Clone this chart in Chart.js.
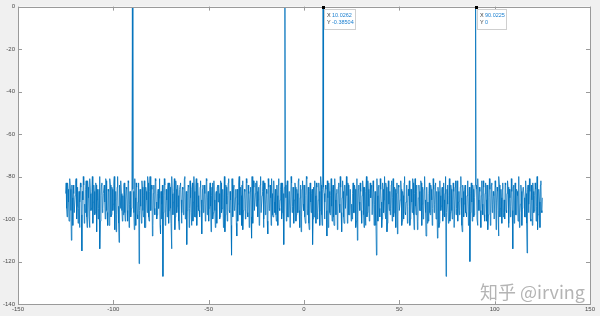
<!DOCTYPE html>
<html><head><meta charset="utf-8">
<script src="https://cdn.jsdelivr.net/npm/chart.js@4/dist/chart.umd.min.js"></script>
<style>html,body{margin:0;padding:0;background:#f0f0f0;}canvas{display:block;}</style>
</head><body>
<canvas id="c" width="600" height="316"></canvas>
<script>
// sampling grid of the spectrum (x from -125 to 125, step 0.25)
const xStart = -125;
const xStep = 0.25;
// spectrum magnitude (dB), 40 samples per row (10 units)
const spectrum = [
-88,-83,-95,-99,-83,-86,-92,-101,-98,-81, -86,-96,-110,-84,-90,-103,-84,-88,-97,-97, -89,-82,-81,-100,-94,-85,-102,-95,-87,-104, -92,-83,-85,-98,-115,-87,-91,-80,-84,-102,
-93,-97,-86,-82,-99,-104,-82,-85,-90,-99, -104,-81,-88,-96,-95,-87,-80,-102,-92,-84, -87,-98,-97,-83,-84,-106,-91,-86,-100,-95, -86,-80,-114,-101,-89,-84,-83,-97,-95,-88,
-88,-84,-92,-100,-81,-82,-96,-97,-103,-86, -87,-103,-90,-81,-84,-99,-98,-85,-86,-96, -93,-83,-80,-105,-91,-87,-106,-98,-85,-80, -94,-102,-111,-84,-88,-95,-82,-88,-96,-101,
-89,-98,-84,-83,-97,-101,-91,-85,-86,-96, -101,-82,-83,-104,-93,-87,-88,-99,-95,-84, -0.5,-86,-87,-97,-105,-81,-90,-103,-83,-85, -98,-100,-92,-83,-121,-96,-86,-88,-94,-102,
-82,-85,-96,-99,-89,-82,-104,-104,-85,-87, -91,-97,-80,-83,-99,-101,-87,-80,-93,-96, -84,-86,-108,-103,-88,-84,-95,-98,-81,-82, -92,-100,-98,-88,-86,-95,-90,-81,-103,-107,
-87,-100,-93,-84,-127,-97,-89,-81,-84,-103, -97,-86,-91,-99,-86,-83,-102,-96,-83,-85, -95,-102,-114,-80,-88,-98,-92,-87,-81,-105, -99,-82,-86,-97,-94,-84,-89,-101,-105,-86,
-84,-83,-91,-102,-97,-85,-86,-98,-93,-81, -80,-100,-98,-87,-112,-96,-88,-84,-85,-104, -95,-82,-90,-97,-103,-86,-83,-101,-92,-80, -87,-99,-99,-85,-81,-103,-94,-83,-89,-96,
-96,-99,-85,-82,-91,-103,-107,-86,-84,-97, -93,-84,-88,-101,-98,-81,-82,-98,-90,-87, -101,-95,-86,-83,-94,-106,-89,-85,-83,-100, -97,-82,-91,-96,-104,-88,-87,-102,-85,-84,
-92,-84,-88,-100,-99,-82,-83,-97,-95,-86, -86,-104,-90,-80,-106,-98,-84,-85,-93,-101, -89,-83,-81,-96,-97,-87,-91,-103,-117,-81, -87,-99,-85,-84,-96,-95,-90,-86,-102,-108,
-86,-101,-93,-83,-80,-98,-98,-85,-89,-103, -84,-82,-105,-96,-91,-86,-87,-100,-95,-81, -83,-97,-99,-84,-88,-104,-92,-87,-85,-99, -109,-80,-90,-102,-82,-85,-96,-96,-88,-83,
-94,-82,-87,-99,-91,-85,-103,-102,-84,-80, -97,-97,-89,-87,-82,-104,-100,-83,-86,-98, -93,-86,-88,-101,-107,-81,-85,-96,-95,-84, -90,-103,-81,-88,-98,-99,-87,-82,-92,-97,
-86,-98,-101,-84,-89,-103,-84,-81,-95,-96, -91,-86,-83,-100,-97,-83,-88,-97,-112,-85, -0.4,-84,-90,-101,-85,-82,-99,-99,-92,-87, -87,-104,-104,-80,-83,-97,-94,-85,-89,-102,
-91,-83,-85,-101,-98,-86,-88,-97,-82,-81, -96,-104,-90,-84,-106,-99,-86,-82,-93,-96, -84,-87,-99,-102,-89,-80,-81,-98,-95,-85, -102,-105,-87,-83,-92,-97,-88,-86,-112,-100,
-85,-99,-94,-82,-89,-102,-83,-85,-100,-97, -91,-83,-87,-103,-96,-80,-84,-98,-103,-86, -0.38504,-85,-88,-100,-92,-84,-86,-96,-108,-82, -90,-104,-83,-87,-97,-98,-89,-81,-94,-101,
-86,-84,-99,-103,-82,-81,-91,-98,-88,-86, -105,-100,-85,-83,-93,-97,-80,-85,-97,-106, -90,-82,-87,-99,-102,-87,-84,-95,-95,-80, -89,-102,-83,-84,-98,-98,-91,-86,-86,-101,
-93,-100,-88,-83,-97,-97,-84,-86,-90,-104, -101,-81,-110,-99,-86,-84,-92,-96,-83,-87, -96,-102,-89,-82,-85,-98,-104,-85,-91,-103, -87,-80,-99,-97,-82,-86,-94,-101,-88,-83,
-90,-85,-84,-98,-98,-82,-87,-103,-93,-87, -103,-96,-117,-81,-89,-101,-85,-84,-95,-99, -81,-86,-92,-104,-100,-83,-86,-97,-91,-80, -97,-100,-83,-85,-106,-102,-88,-82,-93,-96,
-87,-98,-95,-84,-82,-101,-90,-81,-99,-97, -85,-86,-93,-104,-88,-83,-107,-99,-84,-85, -96,-96,-91,-82,-86,-103,-101,-87,-89,-100, -83,-80,-97,-98,-92,-84,-85,-102,-94,-86,
-89,-82,-103,-100,-86,-86,-92,-97,-81,-83, -98,-105,-88,-81,-94,-98,-84,-87,-105,-101, -90,-84,-87,-96,-96,-82,-83,-103,-93,-85, -100,-99,-86,-80,-91,-97,-108,-86,-85,-102,
-92,-101,-88,-83,-97,-98,-84,-86,-91,-103, -95,-81,-86,-97,-93,-84,-83,-100,-99,-87, -109,-85,-87,-104,-102,-82,-89,-96,-94,-86, -85,-101,-98,-83,-91,-99,-88,-80,-127,-97,
-86,-84,-93,-102,-89,-81,-101,-97,-84,-86, -96,-100,-91,-83,-87,-104,-104,-85,-82,-98, -95,-82,-88,-101,-92,-87,-98,-96,-85,-80, -90,-103,-106,-84,-87,-99,-93,-86,-84,-97,
-97,-99,-89,-82,-85,-103,-94,-85,-120,-97, -88,-83,-92,-101,-84,-86,-99,-98,-90,-84, 0,-84,-86,-100,-103,-81,-91,-96,-85,-87, -96,-104,-89,-82,-93,-98,-82,-85,-98,-101,
-88,-83,-91,-101,-84,-86,-105,-98,-90,-81, -86,-103,-97,-84,-83,-97,-93,-87,-89,-100, -100,-82,-85,-105,-92,-85,-87,-96,-108,-80, -84,-99,-95,-86,-90,-102,-86,-83,-99,-97,
-91,-100,-83,-84,-96,-97,-88,-82,-85,-104, -102,-86,-90,-99,-94,-81,-87,-96,-114,-85, -84,-102,-92,-83,-98,-98,-86,-87,-89,-101, -81,-80,-104,-97,-93,-84,-87,-103,-95,-86,
-85,-85,-90,-99,-99,-82,-88,-102,-116,-86, -84,-97,-93,-81,-87,-100,-101,-84,-91,-103, -83,-87,-97,-96,-89,-83,-86,-101,-94,-80, -105,-98,-88,-86,-92,-104,-84,-82,-96,-97,
-90
];
// data tips
const tipX = [10.0262, 90.0225];
const tipY = [-0.38504, 0];
const tipXLabel = ['10.0262', '90.0225'];
const tipYLabel = ['-0.38504', '0'];
// axis ticks
const xTicks = [-150, -100, -50, 0, 50, 100, 150];
const yTicks = [0, -20, -40, -60, -80, -100, -120, -140];

const points = spectrum.map((v, i) => ({x: xStart + i * xStep, y: v}));

const frame = {
  id: 'frame',
  beforeDraw(chart) {
    const {ctx, chartArea: a} = chart;
    ctx.save();
    ctx.fillStyle = '#ffffff';
    ctx.fillRect(a.left, a.top, a.right - a.left, a.bottom - a.top);
    ctx.restore();
  },
  afterDraw(chart) {
    const {ctx, chartArea: a, scales} = chart;
    const xs = scales.x, ys = scales.y;
    ctx.save();
    ctx.strokeStyle = '#9a9a9a';
    ctx.lineWidth = 1;
    ctx.strokeRect(Math.round(a.left) + 0.5, Math.round(a.top) + 0.5, Math.round(a.right - a.left), Math.round(a.bottom - a.top));
    const tl = 4;
    ctx.beginPath();
    xTicks.forEach(t => {
      const px = Math.round(xs.getPixelForValue(t)) + 0.5;
      ctx.moveTo(px, a.bottom); ctx.lineTo(px, a.bottom - tl);
      ctx.moveTo(px, a.top); ctx.lineTo(px, a.top + tl);
    });
    yTicks.forEach(t => {
      const py = Math.round(ys.getPixelForValue(t)) + 0.5;
      ctx.moveTo(a.left, py); ctx.lineTo(a.left + tl, py);
      ctx.moveTo(a.right, py); ctx.lineTo(a.right - tl, py);
    });
    ctx.stroke();

    // data tips
    tipX.forEach((tx, i) => {
      const px = xs.getPixelForValue(tx);
      const py = ys.getPixelForValue(tipY[i]);
      const bx = Math.round(px) + 1, by = Math.round(py) + 2;
      const bw = i === 0 ? 31 : 29, bh = 20;
      ctx.fillStyle = 'rgba(0,0,0,0.08)';
      ctx.fillRect(bx + 1, by + 1, bw, bh);
      ctx.fillStyle = '#ffffff';
      ctx.fillRect(bx, by, bw, bh);
      ctx.strokeStyle = '#cfcfcf';
      ctx.strokeRect(bx + 0.5, by + 0.5, bw, bh);
      ctx.font = '5.5px "Liberation Sans", Arial, sans-serif';
      ctx.textBaseline = 'middle';
      ctx.textAlign = 'left';
      ctx.fillStyle = '#333333';
      ctx.fillText('X', bx + 3, by + 6);
      ctx.fillText('Y', bx + 3, by + 13);
      ctx.fillStyle = '#1a7fd0';
      ctx.fillText(tipXLabel[i], bx + 8, by + 6);
      ctx.fillText(tipYLabel[i], bx + 8, by + 13);
      ctx.fillStyle = '#000000';
      ctx.fillRect(Math.round(px) - 1, Math.round(py) - 1, 3, 3);
    });

    // watermark
    ctx.font = '18px "Noto Sans CJK SC", sans-serif';
    ctx.textAlign = 'left';
    ctx.textBaseline = 'alphabetic';
    ctx.lineWidth = 2;
    ctx.strokeStyle = 'rgba(255,255,255,0.9)';
    ctx.strokeText('知乎 @irving', 480, 299);
    ctx.fillStyle = '#b4b4b4';
    ctx.fillText('知乎 @irving', 480, 299);
    ctx.restore();
  }
};

new Chart(document.getElementById('c'), {
  type: 'line',
  data: {
    datasets: [{
      data: points,
      borderColor: '#0072BD',
      borderWidth: 0.8,
      pointRadius: 0,
      tension: 0,
      fill: false
    }]
  },
  options: {
    responsive: false,
    animation: false,
    devicePixelRatio: 1,
    layout: {padding: {top: 5, right: 10, left: 0, bottom: 0}},
    plugins: {legend: {display: false}, tooltip: {enabled: false}},
    scales: {
      x: {
        type: 'linear', min: -150, max: 150,
        afterBuildTicks: s => { s.ticks = xTicks.map(v => ({value: v})); },
        afterFit: s => { s.height = 12; },
        grid: {display: false, drawTicks: false},
        border: {display: false},
        ticks: {padding: 2, maxRotation: 0, autoSkip: false, color: '#4a4a4a', font: {size: 6, family: '"Liberation Sans", Arial, sans-serif'}}
      },
      y: {
        type: 'linear', min: -140, max: 0,
        afterBuildTicks: s => { s.ticks = yTicks.map(v => ({value: v})); },
        afterFit: s => { s.width = 18; },
        grid: {display: false, drawTicks: false},
        border: {display: false},
        ticks: {padding: 3, autoSkip: false, color: '#4a4a4a', font: {size: 6, family: '"Liberation Sans", Arial, sans-serif'}}
      }
    }
  },
  plugins: [frame]
});
</script>
</body></html>
